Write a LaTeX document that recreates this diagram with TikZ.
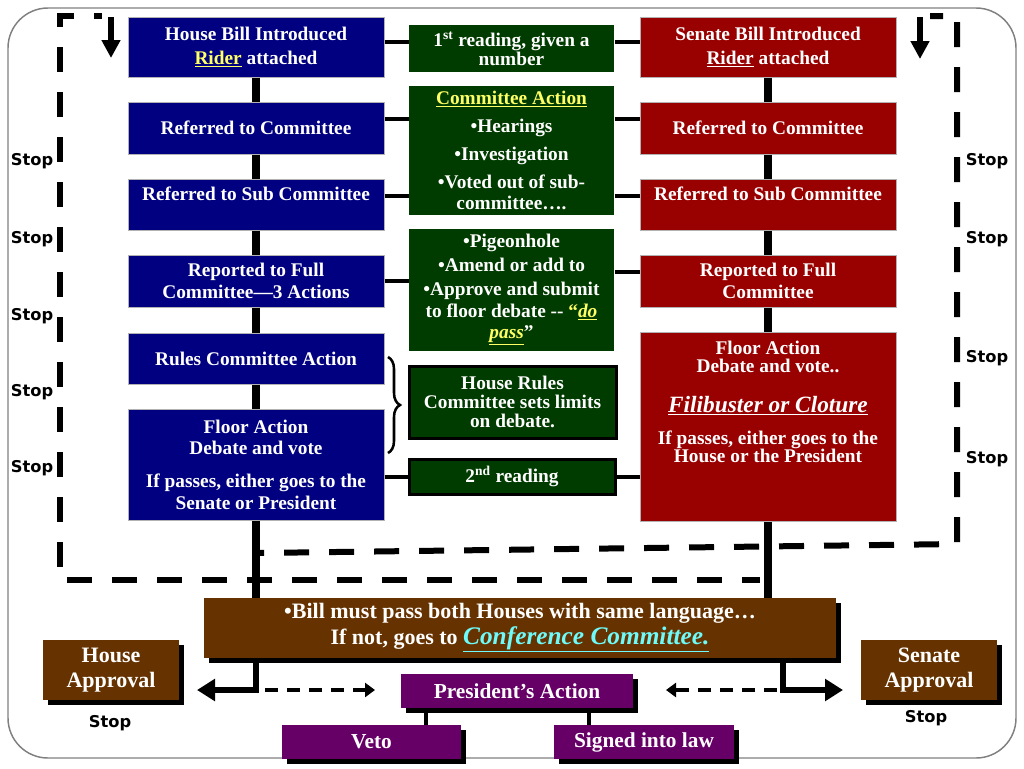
\documentclass[tikz,border=0pt]{standalone}
\usepackage{fontspec}
\setmainfont{Liberation Serif}
\newfontfamily\stopfont{DejaVu Sans}
\usetikzlibrary{arrows.meta,shadows,decorations.pathreplacing}

\definecolor{houseblue}{RGB}{0,0,128}
\definecolor{senatered}{RGB}{153,0,0}
\definecolor{stepgreen}{RGB}{0,60,0}
\definecolor{confbrown}{RGB}{102,51,0}
\definecolor{prespurple}{RGB}{102,0,102}
\definecolor{hiyellow}{RGB}{255,255,102}
\definecolor{hicyan}{RGB}{110,250,250}

\newcommand{\boxfont}{\fontsize{14.5}{16}\selectfont\bfseries}
\newcommand{\bigboxfont}{\fontsize{16.5}{19}\selectfont\bfseries}
\newcommand{\presfont}{\fontsize{16}{18}\selectfont\bfseries}

\tikzset{every picture/.style={line width=0.75pt}}
\tikzset{
  housebox/.style={fill=houseblue, draw=gray!60, text=white, font=\boxfont, align=center, inner sep=1pt, minimum width=192pt},
  senatebox/.style={fill=senatered, draw=gray!60, text=white, font=\boxfont, align=center, inner sep=1pt, minimum width=192pt},
  stepbox/.style={fill=stepgreen, text=white, font=\boxfont, align=center, inner sep=1pt, minimum width=153.75pt},
  boxshadow/.style={drop shadow={shadow xshift=3.75pt, shadow yshift=-3.75pt, fill=black, opacity=1}},
  finalbox/.style={fill=confbrown, text=white, font=\bigboxfont, align=center, inner sep=1pt, boxshadow},
  presbox/.style={fill=prespurple, text=white, font=\presfont, align=center, inner sep=1pt, minimum height=25.5pt, boxshadow},
  stoplabel/.style={font=\stopfont\bfseries\fontsize{12.2}{14}\selectfont, text=black, inner sep=0pt},
  trunk/.style={line width=6pt},
  link/.style={line width=3pt},
  loopline/.style={line width=4.5pt, dash pattern=on 18.75pt off 15pt},
  downarrow/.style={line width=4.5pt, -{Triangle[width=13.5pt,length=13.5pt]}},
  fatarrow/.style={line width=4.5pt, -{Triangle[width=16pt,length=13.5pt]}},
  dasharrow/.style={line width=3pt, dash pattern=on 9.75pt off 6.75pt, -{Triangle[width=10.5pt,length=7.5pt]}},
}

\begin{document}
\begin{tikzpicture}[x=0.75pt,y=0.75pt,yscale=-1,xscale=1]
	\useasboundingbox (0,0) rectangle (1024,768);

	%Shape: Frame
	\draw [gray, line width=1.1pt, rounded corners=30pt] (8,8) rectangle (1016,758);

	%Shape: House boxes
	\node [housebox, minimum height=45pt] (B1) at (256,47) {House Bill Introduced\\[2pt]{\color{hiyellow}\underline{Rider}} attached};
	\node [housebox, minimum height=39pt] (B2) at (256,128) {Referred to Committee};
	\node [housebox, minimum height=38.25pt] (B3) at (256,204.5) {Referred to Sub Committee\\\mbox{}};
	\node [housebox, minimum height=39pt] (B4) at (256,281) {Reported to Full\\Committee—3 Actions};
	\node [housebox, minimum height=38.25pt] (B5) at (256,358.5) {Rules Committee Action};
	\node [housebox, minimum height=83.25pt] (B6) at (256,464.5) {Floor Action\\Debate and vote\\[9pt]If passes, either goes to the\\Senate or President};

	%Shape: Senate boxes
	\node [senatebox, minimum height=45pt] (R1) at (768,47) {Senate Bill Introduced\\[2pt]\underline{Rider} attached};
	\node [senatebox, minimum height=39pt] (R2) at (768,128) {Referred to Committee};
	\node [senatebox, minimum height=38.25pt] (R3) at (768,204.5) {Referred to Sub Committee\\\mbox{}};
	\node [senatebox, minimum height=39pt] (R4) at (768,281) {Reported to Full\\Committee};
	\node [senatebox, minimum height=141.75pt, font=\fontsize{14.5}{14}\selectfont\bfseries] (R5) at (768,426.5) {Floor Action\\Debate and vote..\\[15.5pt]{\fontsize{17.5}{20}\selectfont\itshape\underline{Filibuster or Cloture}}\\[10pt]If passes, either goes to the\\House or the President\\[23pt]\mbox{}};

	%Shape: Step boxes
	\node [stepbox, minimum height=35.25pt, font=\fontsize{14.5}{14.5}\selectfont\bfseries] (G1) at (511.5,48.5) {1\textsuperscript{st} reading, given a\\number};
	\node [stepbox, minimum height=96.75pt] (G2) at (511.5,150.5) {{\color{hiyellow}\underline{Committee Action}}\\[5pt]•Hearings\\[5pt]•Investigation\\[5pt]•Voted out of sub-\\committee….};
	\node [stepbox, minimum height=91.5pt] (G3) at (511.5,290) {•Pigeonhole\\[2pt]•Amend or add to\\[2pt]•Approve and submit\\to floor debate -{}- {\color{hiyellow}“\underline{\itshape do}}\\{\color{hiyellow}\underline{\itshape pass}}”};
	\node [stepbox, draw=black, line width=2.25pt, minimum width=155.25pt, minimum height=54pt, font=\fontsize{14.5}{14.25}\selectfont\bfseries] (G4) at (512.5,402) {House Rules\\Committee sets limits\\on debate.};
	\node [stepbox, draw=black, line width=2.25pt, minimum width=154.5pt, minimum height=26.25pt] (G5) at (512,476.5) {2\textsuperscript{nd} reading};

	%Shape: Final boxes
	\node [finalbox, minimum width=474pt, minimum height=45pt] (Bill) at (520,628) {•Bill must pass both Houses with same language…\\If not, goes to {\color{hicyan}\fontsize{19}{21}\selectfont\itshape\underline{Conference Committee.}}};
	\node [finalbox, minimum width=102pt, minimum height=45pt] (HouseOK) at (111,670) {House\\Approval};
	\node [finalbox, minimum width=102pt, minimum height=45pt] (SenateOK) at (929,670) {Senate\\Approval};
	\node [presbox, minimum width=174pt] (Pres) at (517,691) {President’s Action};
	\node [presbox, minimum width=134.25pt] (Veto) at (371.5,742) {Veto};
	\node [presbox, minimum width=135pt] (Signed) at (644,742) {Signed into law};

	% Text Node
	\node [stoplabel] (stopL1) at (32,161) {Stop};
	\node [stoplabel] (stopL2) at (32,239) {Stop};
	\node [stoplabel] (stopL3) at (32,316) {Stop};
	\node [stoplabel] (stopL4) at (32,392) {Stop};
	\node [stoplabel] (stopL5) at (32,468) {Stop};
	\node [stoplabel] (stopR1) at (987,161) {Stop};
	\node [stoplabel] (stopR2) at (987,239) {Stop};
	\node [stoplabel] (stopR3) at (987,358) {Stop};
	\node [stoplabel] (stopR4) at (987,459) {Stop};
	\node [stoplabel] (stopH) at (110,723) {Stop};
	\node [stoplabel] (stopS) at (926,718) {Stop};

	%Dashed loops
	\draw [loopline, dash phase=12.75pt] (102,16) -- (60,16) -- (60,580) -- (760,580);
	\draw [loopline, dash phase=9pt] (930,16) -- (957,16) -- (957,544) -- (258,553);

	%Straight Lines
	\draw [trunk] (B1.south) -- (B2.north);
	\draw [trunk] (B2.south) -- (B3.north);
	\draw [trunk] (B3.south) -- (B4.north);
	\draw [trunk] (B4.south) -- (B5.north);
	\draw [trunk] (B5.south) -- (B6.north);
	\draw [trunk] (B6.south) -- (Bill.north -| B6.south);
	\draw [trunk] (R1.south) -- (R2.north);
	\draw [trunk] (R2.south) -- (R3.north);
	\draw [trunk] (R3.south) -- (R4.north);
	\draw [trunk] (R4.south) -- (R5.north);
	\draw [trunk] (R5.south) -- (Bill.north -| R5.south);

	\draw [link] (B1.east |- 0,42) -- (G1.west |- 0,42);
	\draw [link] (G1.east |- 0,42) -- (R1.west |- 0,42);
	\draw [link] (B2.east |- 0,119) -- (G2.west |- 0,119);
	\draw [link] (G2.east |- 0,119) -- (R2.west |- 0,119);
	\draw [link] (B3.east |- 0,196) -- (G2.west |- 0,196);
	\draw [link] (G2.east |- 0,196) -- (R3.west |- 0,196);
	\draw [link] (B4.east |- 0,281) -- (G3.west |- 0,281);
	\draw [link] (G3.east |- 0,272) -- (R4.west |- 0,272);
	\draw [link] (B6.east |- G5.west) -- (G5.west);
	\draw [link] (G5.east) -- (R5.west |- G5.east);

	%Brace
	\draw [line width=1.9pt, decorate, decoration={brace, amplitude=9pt}] (388,357) -- (388,453);

	%Arrows
	\coordinate (hDownTop) at (111,17);
	\coordinate (hDownEnd) at (111,58);
	\coordinate (sDownTop) at (920,17);
	\coordinate (sDownEnd) at (920,59);
	\draw [downarrow] (hDownTop) -- (hDownEnd);
	\draw [downarrow] (sDownTop) -- (sDownEnd);

	\coordinate (hApTip) at (197,690);
	\coordinate (sApTip) at (843,690);
	\draw [fatarrow] (Bill.south -| B6.south) |- (hApTip);
	\draw [fatarrow] (Bill.south -| 783,0) |- (sApTip);

	\coordinate (hDashStart) at (265,690);
	\coordinate (hDashTip) at (375,690);
	\coordinate (sDashStart) at (777,690);
	\coordinate (sDashTip) at (666,690);
	\draw [dasharrow] (hDashStart) -- (hDashTip);
	\draw [dasharrow] (sDashStart) -- (sDashTip);

	\draw [link] (Pres.south -| 426,0) -- (Veto.north -| 426,0);
	\draw [link] (Pres.south -| 589,0) -- (Signed.north -| 589,0);

\end{tikzpicture}
\end{document}
